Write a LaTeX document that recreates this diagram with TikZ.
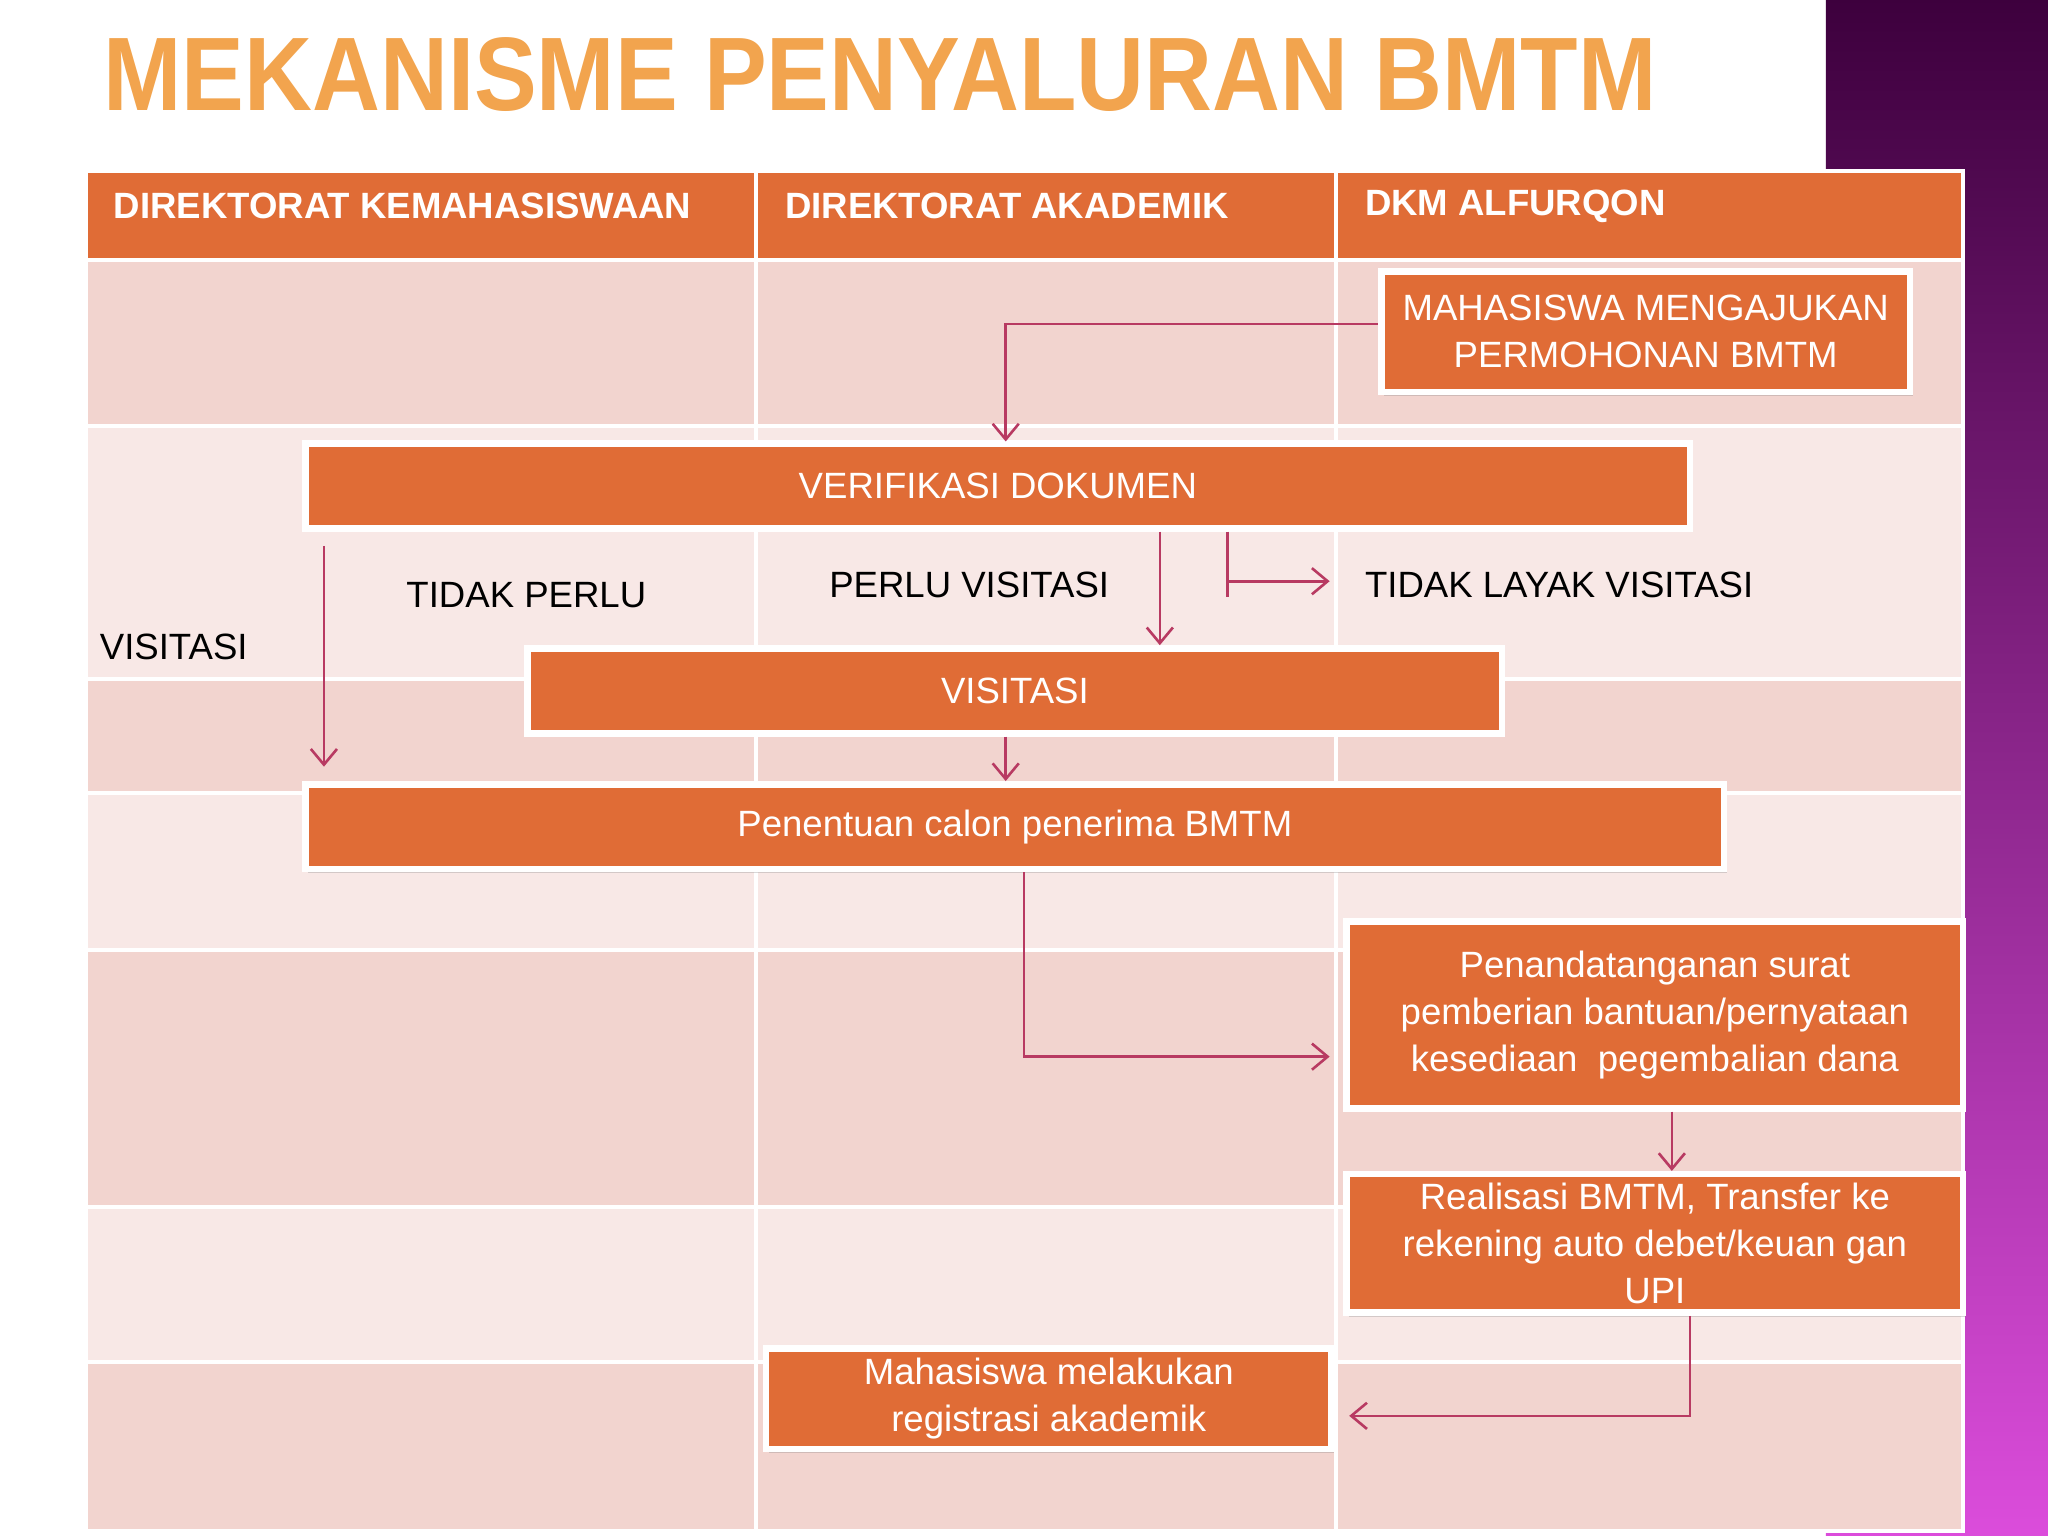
\documentclass[tikz,border=0pt]{standalone}
\usepackage{fontspec}
\setmainfont{Liberation Sans}
\usetikzlibrary{arrows.meta,shadows}
\definecolor{org}{HTML}{E06C36}
\definecolor{rowA}{HTML}{F2D4CF}
\definecolor{rowB}{HTML}{F8E8E6}
\definecolor{arr}{HTML}{B83A62}
\definecolor{ttl}{HTML}{F2A44E}
\tikzset{
 box/.style={draw=white,line width=2.5pt,fill=org,text=white,font=\fontsize{14}{18}\selectfont,align=center,inner sep=0pt,drop shadow={shadow xshift=1pt,shadow yshift=-1.5pt,opacity=0.3}},
 hdr/.style={anchor=west,text=white,font=\bfseries\fontsize{14}{16}\selectfont},
 lbl/.style={font=\fontsize{14}{16}\selectfont},
 con/.style={draw=arr,line width=1pt,-{Straight Barb[length=6pt,width=10pt]}},
 seg/.style={draw=arr,line width=1pt}
}
\begin{document}
\begin{tikzpicture}[x=0.5pt,y=-0.5pt]
\fill[white] (0,0) rectangle (1568,1176);
\shade[top color=black!20!violet!60!black,bottom color=magenta!60!violet!70!white] (1398,0) rectangle (1568,1176);
\node[anchor=west,text=ttl,font=\bfseries\fontsize{40}{44}\selectfont] (title) at (72,57) {\scalebox{0.9}[1]{MEKANISME PENYALURAN BMTM}};
% rows
\foreach \a/\b/\c in {199/326/rowA,326/520/rowB,520/607/rowA,607/727/rowB,727/924/rowA,924/1043/rowB,1043/1172/rowA}
  \fill[\c] (66,\a) rectangle (1503,\b);
\fill[org] (66,131) rectangle (1503,199);
\foreach \y in {199,326,520,607,727,924,1043} \draw[white,line width=1.5pt] (66,\y)--(1503,\y);
\foreach \x in {579,1023} \draw[white,line width=1.5pt] (\x,131)--(\x,1172);
\draw[white,line width=1.5pt] (66,131) rectangle (1503,1172);
\node[hdr] (h1) at (80,158) {DIREKTORAT KEMAHASISWAAN};
\node[hdr] (h2) at (594,158) {DIREKTORAT AKADEMIK};
\node[hdr] (h3) at (1038,158) {DKM ALFURQON};
% boxes
\node[box,minimum width=202.5pt,minimum height=46pt] (mhs) at (1260,254) {MAHASISWA MENGAJUKAN\\PERMOHONAN BMTM};
\node[box,minimum width=530pt,minimum height=32.5pt] (ver) at (764,372) {VERIFIKASI DOKUMEN};
\node[box,minimum width=373pt,minimum height=32.5pt] (vis) at (777,529) {VISITASI};
\node[box,minimum width=543pt,minimum height=32.5pt] (pen) at (777,633) {Penentuan calon penerima BMTM};
\node[box,minimum width=236pt,minimum height=71.5pt] (ttd) at (1267,777) {Penandatanganan surat\\pemberian bantuan/pernyataan\\kesediaan\ \ pegembalian dana};
\node[box,minimum width=236pt,minimum height=53pt] (rea) at (1267,952) {Realisasi BMTM, Transfer ke\\rekening auto debet/keuan gan\\UPI};
\node[box,minimum width=216.5pt,minimum height=38.5pt] (reg) at (803,1071) {Mahasiswa melakukan\\registrasi akademik};
% labels
\node[lbl] (l1) at (403,456) {TIDAK PERLU};
\node[lbl] (l2) at (133,495) {VISITASI};
\node[lbl] (l3) at (742,448) {PERLU VISITASI};
\node[lbl,anchor=west] (l4) at (1038,448) {TIDAK LAYAK VISITASI};
% connectors
\draw[con] (mhs.west |- 0,248) -- (770,248) -- (770,338);
\coordinate (a1) at (248,418); \coordinate (a2) at (248,587);
\draw[con] (a1) -- (a2);
\draw[con] (ver.south -| 888,0) -- (vis.north -| 888,0);
\draw[seg] (ver.south -| 940,0) -- (940,457);
\coordinate (tl) at (1018,445);
\draw[con] (940,445) -- (tl);
\draw[con] (vis.south -| 770,0) -- (pen.north -| 770,0);
\coordinate (b1) at (1018,809);
\draw[con] (pen.south -| 784,0) -- (784,809) -- (b1);
\draw[con] (ttd.south -| 1280,0) -- (rea.north -| 1280,0);
\draw[con] (rea.south -| 1294,0) -- (1294,1084) -- (1033,1084);
\end{tikzpicture}
\end{document}
